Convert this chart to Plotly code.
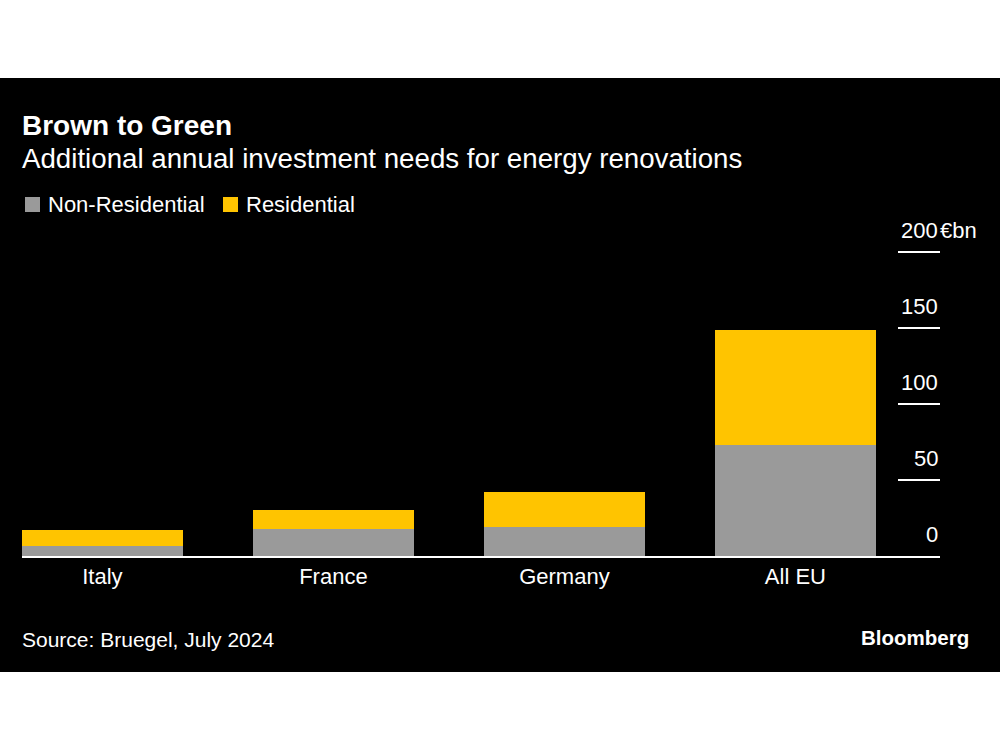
import plotly.graph_objects as go

categories = ["Italy", "France", "Germany", "All EU"]
non_residential = [6.6, 17.6, 19.1, 73.0]
residential = [10.5, 12.9, 23.2, 76.0]
series_names = ["Non-Residential", "Residential"]
tick_vals = [0, 50, 100, 150, 200]
tick_text = ["0", "50", "100", "150", "200"]
unit_label = "€bn"

FONT = "Liberation Sans"
GRAY = "#9a9a9a"
YELLOW = "#ffc400"
COLORS = [GRAY, YELLOW]

W, H = 1000, 750
L, R, T, B = 22, 60, 249, 194
YMAX = 202
pw, ph = W - L - R, H - T - B


def px(xp):
    return (xp - L) / pw


def py(yp):
    return (H - B - yp) / ph


fig = go.Figure()
for name, vals, col in zip(series_names, [non_residential, residential], COLORS):
    fig.add_trace(go.Bar(x=categories, y=vals, name=name,
                         marker=dict(color=col, line=dict(width=0))))

annotations = [
    dict(text="<b>Brown to Green</b>", xref="paper", yref="paper",
         x=px(20), y=py(125), xanchor="left", yanchor="middle",
         showarrow=False, font=dict(size=28, color="white")),
    dict(text="Additional annual investment needs for energy renovations",
         xref="paper", yref="paper", x=px(20), y=py(158),
         xanchor="left", yanchor="middle", showarrow=False,
         font=dict(size=27.7, color="white")),
    dict(text="Source: Bruegel, July 2024", xref="paper", yref="paper",
         x=px(20), y=py(639), xanchor="left", yanchor="middle",
         showarrow=False, font=dict(size=21, color="white")),
    dict(text="<b>Bloomberg</b>", xref="paper", yref="paper",
         x=px(971), y=py(637), xanchor="right", yanchor="middle",
         showarrow=False, font=dict(size=20.5, color="white")),
]

# y tick labels placed above the short tick lines
for v, t in zip(tick_vals, tick_text):
    annotations.append(dict(text=t, xref="paper", yref="y", x=1.0, y=v,
                            xanchor="right", yanchor="bottom", yshift=7,
                            showarrow=False, font=dict(size=22, color="white")))
annotations.append(dict(text=unit_label, xref="paper", yref="y", x=px(938),
                        y=tick_vals[-1], xanchor="left", yanchor="bottom",
                        yshift=7, showarrow=False,
                        font=dict(size=22, color="white")))

# custom legend
legend_x = [25, 223]
shapes = [dict(type="rect", xref="paper", yref="paper",
               x0=px(0), x1=px(1000), y0=py(672), y1=py(78),
               fillcolor="black", line=dict(width=0), layer="below")]
for lx, name, col in zip(legend_x, series_names, COLORS):
    shapes.append(dict(type="rect", xref="paper", yref="paper",
                       x0=px(lx), x1=px(lx + 15), y0=py(212), y1=py(197),
                       fillcolor=col, line=dict(width=0)))
    annotations.append(dict(text=name, xref="paper", yref="paper",
                            x=px(lx + 21), y=py(205), xanchor="left",
                            yanchor="middle", showarrow=False,
                            font=dict(size=22, color="white")))

fig.update_layout(
    width=W, height=H,
    margin=dict(l=L, r=R, t=T, b=B, pad=0),
    paper_bgcolor="white",
    plot_bgcolor="black",
    barmode="stack",
    bargap=0.303,
    font=dict(family=FONT, color="white", size=20),
    showlegend=False,
    xaxis=dict(range=[-0.348, 3.626], showgrid=False, zeroline=False,
               showline=True, linecolor="white", linewidth=1.5,
               ticks="", tickfont=dict(size=22, color="white")),
    yaxis=dict(range=[0, YMAX], side="right", showgrid=False, zeroline=False,
               showline=False, tickvals=tick_vals, showticklabels=False,
               ticks="inside", ticklen=42, tickwidth=1.5, tickcolor="white"),
    shapes=shapes,
    annotations=annotations,
)

fig.write_html("out.html", config={"displayModeBar": False},
               post_script="document.body.style.margin='0';document.body.style.padding='0';")
